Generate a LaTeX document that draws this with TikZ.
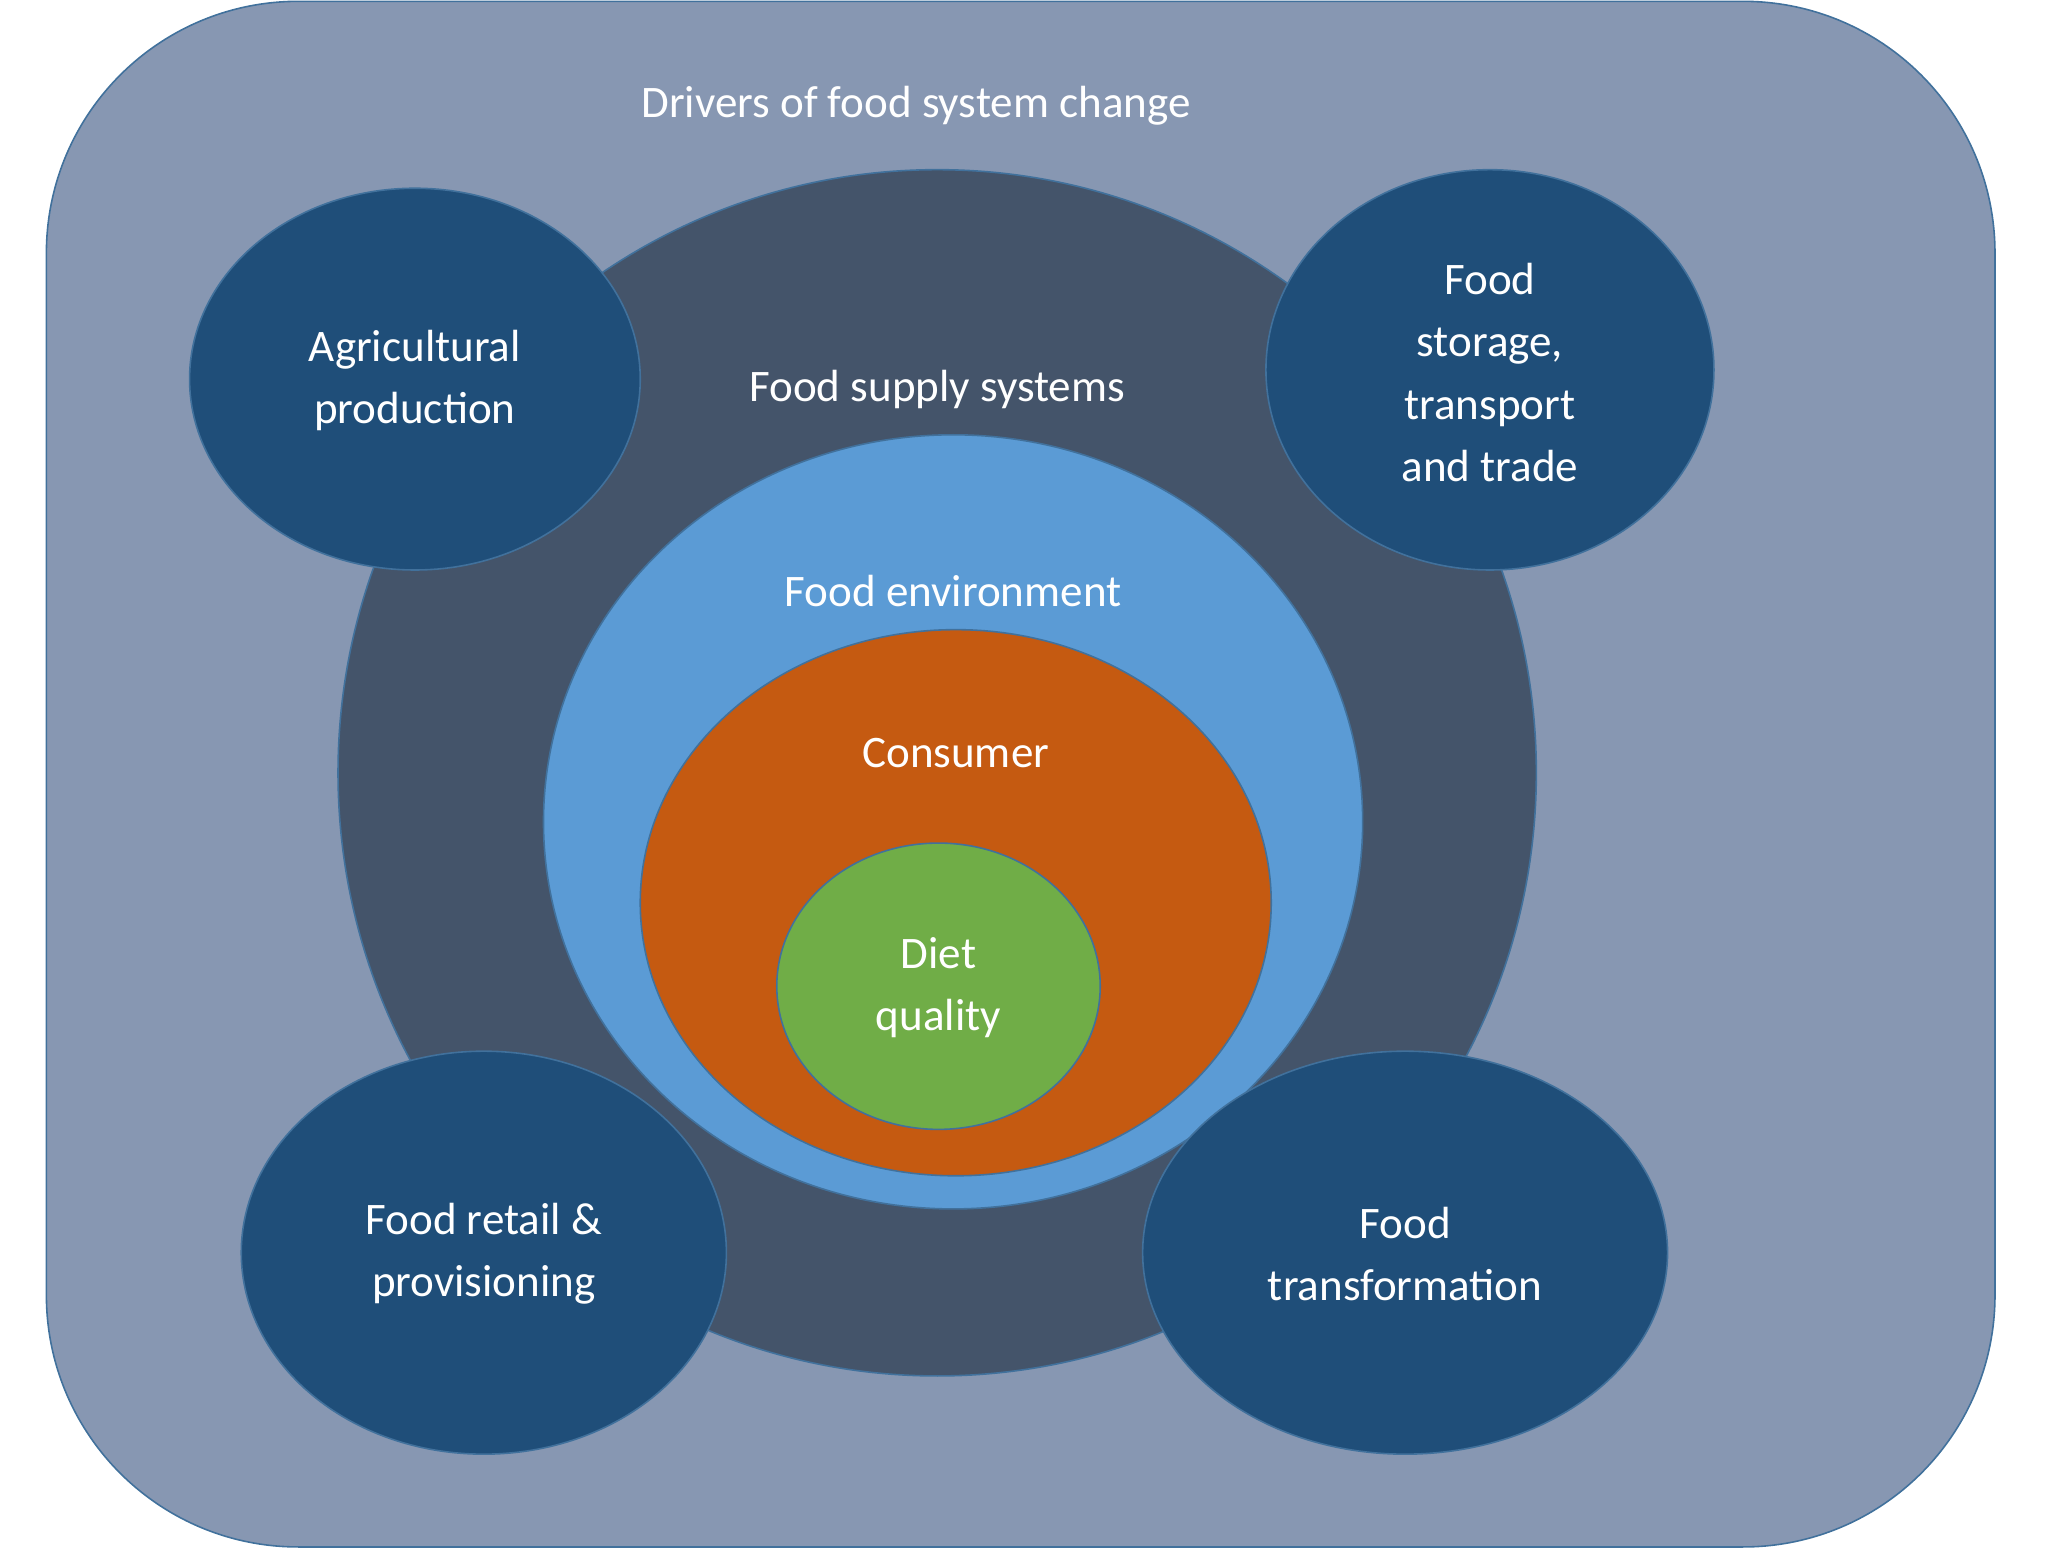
\documentclass[tikz,border=0pt]{standalone}
\usepackage{fontspec}
\setmainfont{Carlito}
\usetikzlibrary{shapes.geometric}
\definecolor{bgc}{HTML}{8797B2}
\definecolor{edge}{HTML}{41719C}
\definecolor{darkc}{HTML}{44546A}
\definecolor{bluec}{HTML}{5B9BD5}
\definecolor{orc}{HTML}{C55A11}
\definecolor{grc}{HTML}{70AD47}
\definecolor{navy}{HTML}{1F4E79}
\begin{document}
\begin{tikzpicture}[x=1pt,y=-1pt,
  ell/.style={ellipse,draw=edge,line width=1.2pt,inner sep=0pt},
  lbl/.style={text=white,font=\fontsize{34}{47}\selectfont,align=center}]
\useasboundingbox (0,0) rectangle (1545,1170);
\draw[draw=edge,fill=bgc,line width=1.2pt,rounded corners=190pt] (35,1) rectangle (1505,1167);
\node[ell,fill=darkc,minimum width=904pt,minimum height=910pt] (sup) at (707,583) {};
\node[ell,fill=bluec,minimum width=618pt,minimum height=584pt] (env) at (719,620) {};
\node[ell,fill=orc,minimum width=476pt,minimum height=412pt] (con) at (721,681) {};
\node[ell,fill=grc,minimum width=244pt,minimum height=216pt] (diet) at (708,744) {};
\node[ell,fill=navy,minimum width=340pt,minimum height=288pt] (agr) at (313,286) {};
\node[ell,fill=navy,minimum width=338pt,minimum height=302pt] (sto) at (1124,279) {};
\node[ell,fill=navy,minimum width=366pt,minimum height=304pt] (ret) at (365,945) {};
\node[ell,fill=navy,minimum width=396pt,minimum height=304pt] (tra) at (1060,945) {};
\node[lbl] (tdr) at (691,80) {Drivers of food system change};
\node[lbl] (tsup) at (707,294) {Food supply systems};
\node[lbl] (tenv) at (719,446) {Food environment};
\node[lbl] (tcon) at (721,568) {Consumer};
\node[lbl] (tdiet) at (708,745) {Diet\\quality};
\node[lbl] (tagr) at (313,287) {Agricultural\\production};
\node[lbl] (tsto) at (1124,281) {Food\\storage,\\transport\\and trade};
\node[lbl] (tret) at (365,946) {Food retail \&\\provisioning};
\node[lbl] (ttra) at (1060,946) {Food\\transformation};
\end{tikzpicture}
\end{document}
